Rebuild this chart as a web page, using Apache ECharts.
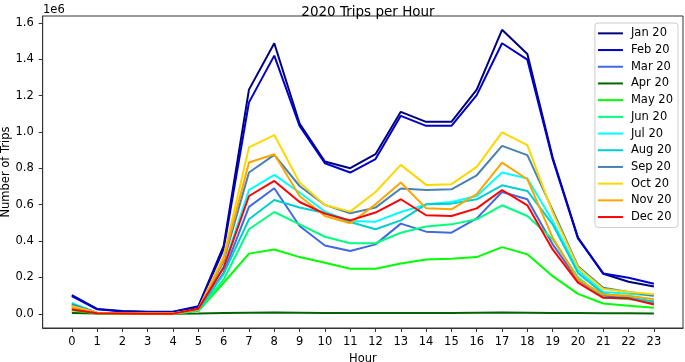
<!DOCTYPE html>
<html>
<head>
<meta charset="utf-8">
<script src="https://cdn.jsdelivr.net/npm/echarts@6/dist/echarts.min.js"></script>
<style>
  html, body { margin: 0; padding: 0; background: #fff; }
  #chart { width: 685px; height: 362px; }
</style>
</head>
<body>
<div id="chart"></div>
<script>
// hours on the x axis
var hours = [0,1,2,3,4,5,6,7,8,9,10,11,12,13,14,15,16,17,18,19,20,21,22,23];
var yTicks = [0, 0.2, 0.4, 0.6, 0.8, 1.0, 1.2, 1.4, 1.6];
var months = ['Jan 20','Feb 20','Mar 20','Apr 20','May 20','Jun 20','Jul 20','Aug 20','Sep 20','Oct 20','Nov 20','Dec 20'];
var colors = ['#000080','#0000CD','#4169E1','#006400','#00FF00','#00FF7F','#00FFFF','#00CED1','#4682B4','#FFD700','#FFA500','#FF0000'];

// trips per hour, in millions
var jan = [0.103,0.027,0.015,0.012,0.012,0.042,0.373,1.233,1.488,1.047,0.838,0.801,0.878,1.111,1.056,1.056,1.233,1.562,1.429,0.860,0.419,0.220,0.176,0.150];
var feb = [0.098,0.025,0.013,0.010,0.010,0.038,0.355,1.163,1.420,1.034,0.828,0.777,0.851,1.089,1.034,1.034,1.203,1.488,1.398,0.850,0.415,0.222,0.198,0.165];
var mar = [0.040,0.005,0.003,0.002,0.002,0.020,0.226,0.588,0.691,0.483,0.376,0.345,0.382,0.496,0.452,0.446,0.525,0.670,0.630,0.382,0.185,0.100,0.090,0.060];
var apr = [0.005,0.002,0.001,0.001,0.001,0.002,0.004,0.006,0.007,0.006,0.005,0.005,0.005,0.005,0.005,0.005,0.006,0.007,0.006,0.005,0.004,0.003,0.003,0.002];
var may = [0.020,0.002,0.001,0.001,0.001,0.015,0.171,0.331,0.354,0.312,0.281,0.248,0.248,0.277,0.299,0.303,0.312,0.367,0.327,0.207,0.110,0.057,0.045,0.033];
var jun = [0.030,0.003,0.002,0.001,0.001,0.018,0.189,0.465,0.560,0.492,0.424,0.388,0.388,0.446,0.480,0.492,0.520,0.597,0.538,0.410,0.200,0.090,0.080,0.066];
var jul = [0.060,0.005,0.003,0.002,0.002,0.022,0.260,0.680,0.764,0.667,0.562,0.510,0.507,0.560,0.602,0.615,0.648,0.777,0.744,0.510,0.240,0.120,0.110,0.100];
var aug = [0.055,0.005,0.003,0.002,0.002,0.020,0.220,0.520,0.626,0.585,0.555,0.505,0.465,0.514,0.602,0.606,0.630,0.707,0.676,0.492,0.225,0.110,0.090,0.068];
var sep = [0.050,0.006,0.003,0.002,0.002,0.025,0.290,0.777,0.874,0.703,0.599,0.553,0.584,0.689,0.681,0.685,0.762,0.924,0.873,0.570,0.262,0.143,0.120,0.100];
var oct = [0.042,0.006,0.003,0.002,0.002,0.025,0.318,0.915,0.983,0.722,0.599,0.562,0.670,0.819,0.709,0.713,0.808,0.998,0.928,0.557,0.255,0.136,0.120,0.108];
var nov = [0.035,0.004,0.002,0.002,0.002,0.024,0.300,0.832,0.878,0.648,0.538,0.498,0.602,0.722,0.580,0.575,0.658,0.832,0.740,0.419,0.189,0.106,0.100,0.080];
var dec = [0.024,0.003,0.002,0.001,0.001,0.028,0.254,0.648,0.731,0.615,0.551,0.514,0.557,0.630,0.542,0.538,0.580,0.681,0.597,0.354,0.171,0.088,0.085,0.051];

var monthData = [jan,feb,mar,apr,may,jun,jul,aug,sep,oct,nov,dec];
var font = 'DejaVu Sans';

var series = months.map(function(m, i){
	return {
		name: m,
		type: 'line',
		symbol: 'none',
		lineStyle: { width: 2, color: colors[i] },
		itemStyle: { color: colors[i] },
		data: hours.map(function(h, j){ return [h, monthData[i][j]]; })
	};
});

var myChart = echarts.init(document.getElementById('chart'));
var option = {
	animation: false,
	color: colors,
	textStyle: { fontFamily: font },
	title: {
		text: '2020 Trips per Hour',
		left: 363, top: 0, textAlign: 'center',
		textStyle: { fontFamily: font, fontSize: 13.5, fontWeight: 'normal', color: '#000' }
	},
	grid: {
		left: 42.7, right: 2, top: 16, bottom: 34,
		outerBoundsMode: 'none',
		containLabel: false,
		show: true, borderColor: '#333', borderWidth: 1
	},
	legend: {
		orient: 'vertical',
		right: 7, top: 23,
		icon: 'rect',
		itemWidth: 25, itemHeight: 2,
		itemGap: 2,
		padding: [3, 5, 3, 3],
		backgroundColor: '#fff',
		borderColor: '#ccc', borderWidth: 1, borderRadius: 3,
		textStyle: { fontFamily: font, fontSize: 11.5, color: '#000', lineHeight: 14.7, padding: [0,0,0,3] },
		data: months
	},
	xAxis: {
		type: 'value',
		min: -1.15, max: 24.15,
		name: 'Hour', nameLocation: 'middle', nameGap: 22,
		nameTextStyle: { fontFamily: font, fontSize: 11.5, color: '#000' },
		splitLine: { show: false },
		axisLine: { show: true, onZero: false, lineStyle: { color: '#333' } },
		axisTick: { show: true, length: 4, customValues: hours, lineStyle: { color: '#333' } },
		axisLabel: { customValues: hours, margin: 8, fontFamily: font, fontSize: 11.5, color: '#000' }
	},
	yAxis: {
		type: 'value',
		min: -0.078, max: 1.638,
		splitLine: { show: false },
		axisLine: { show: true, onZero: false, lineStyle: { color: '#333' } },
		axisTick: { show: true, length: 4, customValues: yTicks, lineStyle: { color: '#333' } },
		axisLabel: {
			customValues: yTicks, margin: 9, fontFamily: font, fontSize: 11.5, color: '#000',
			formatter: function(v){ return v.toFixed(1); }
		}
	},
	graphic: [{
		type: 'text', left: 43, top: 4,
		style: { text: '1e6', fontFamily: font, fontSize: 11.5, fill: '#000' }
	}, {
		type: 'text', x: 6, y: 172, rotation: Math.PI / 2,
		style: { text: 'Number of Trips', fontFamily: font, fontSize: 11.5, fill: '#000', align: 'center', verticalAlign: 'middle' }
	}],
	series: series
};
if(option && typeof option === "object") {
	myChart.setOption(option, true);
}
</script>
</body>
</html>
